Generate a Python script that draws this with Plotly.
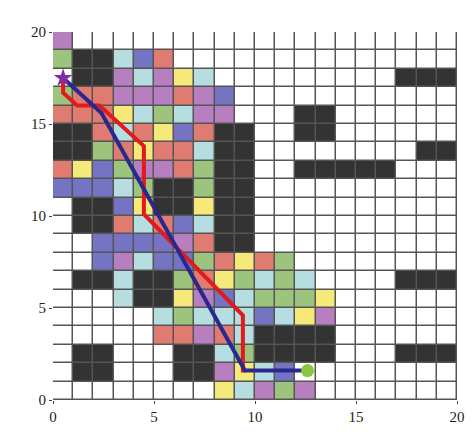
import plotly.graph_objects as go

# grid rows from top (y=19) to bottom (y=0)
# W white, K obstacle, P purple, G green, C cyan, B blue, R red, Y yellow
rows = [
    "PWWWWWWWWWWWWWWWWWWW",
    "GKKCBRWWWWWWWWWWWWWW",
    "WKKPCPYCWWWWWWWWWKKK",
    "GRRPPPRPBWWWWWWWWWWW",
    "RRRYCGCPPWWWKKWWWWWW",
    "KKRCRYBRKKWWKKWWWWWW",
    "KKGRYRRCKKWWWWWWWWKK",
    "RYBGPPRGKKWWKKKKKWWW",
    "BBBCGKKGKKWWWWWWWWWW",
    "WKKBYKKYKKWWWWWWWWWW",
    "WKKRCRBCKKWWWWWWWWWW",
    "WWBBBBPRKKWWWWWWWWWW",
    "WWBPCBBGRYRGWWWWWWWW",
    "WKKCKKGRYGCGCWWWWKKK",
    "WWWCKKYPBCGGGYWWWWWW",
    "WWWWWCGCCCBCYPWWWWWW",
    "WWWWWRRPRCKKKKWWWWWW",
    "WKKWWWKKCGKKKKWWWKKK",
    "WKKWWWKKPYCBWWWWWWWW",
    "WWWWWWWWYCPGPWWWWWWW",
]
codes = "WKPGCBRY"
colors = ["#ffffff", "#333333", "#b87fc0", "#9dc47c", "#b6dde0",
          "#7474c2", "#e07b72", "#f5e97a"]

red_x = [0.5, 0.5, 1.2, 2.3, 4.5, 4.5, 9.4, 9.4]
red_y = [17.5, 16.7, 16.0, 16.0, 13.8, 10.1, 4.6, 1.5]
blue_x = [0.5, 2.4, 9.5, 12.5]
blue_y = [17.5, 15.6, 1.6, 1.6]

z = [[codes.index(ch) for ch in r] for r in reversed(rows)]
n = len(colors)
scale = []
for i, c in enumerate(colors):
    scale += [[i / n, c], [(i + 1) / n, c]]

fig = go.Figure()
fig.add_trace(go.Heatmap(z=z, x=[i + 0.5 for i in range(20)], y=[i + 0.5 for i in range(20)],
                         zmin=-0.5, zmax=n - 0.5, colorscale=scale, showscale=False,
                         xgap=1.5, ygap=1.5, hoverinfo="skip"))
fig.add_trace(go.Scatter(x=red_x, y=red_y, mode="lines", line=dict(color="#e31a1c", width=4)))
fig.add_trace(go.Scatter(x=blue_x, y=blue_y, mode="lines", line=dict(color="#28288f", width=4)))
fig.add_trace(go.Scatter(x=[12.6], y=[1.6], mode="markers",
                         marker=dict(color="#8cc63f", size=13)))
fig.add_trace(go.Scatter(x=[0.5], y=[17.5], mode="markers",
                         marker=dict(color="#7b2fa8", size=14, symbol="star")))

axis = dict(range=[0, 20], tickvals=[0, 5, 10, 15, 20], showgrid=False, zeroline=False,
            ticks="outside", ticklen=3, tickfont=dict(family="Liberation Serif", size=15, color="#222"))
fig.update_layout(width=474, height=432, margin=dict(l=45, r=25, t=24, b=40),
                  plot_bgcolor="#555555", paper_bgcolor="white", showlegend=False,
                  xaxis=axis, yaxis=axis)
fig.write_html("out.html")
